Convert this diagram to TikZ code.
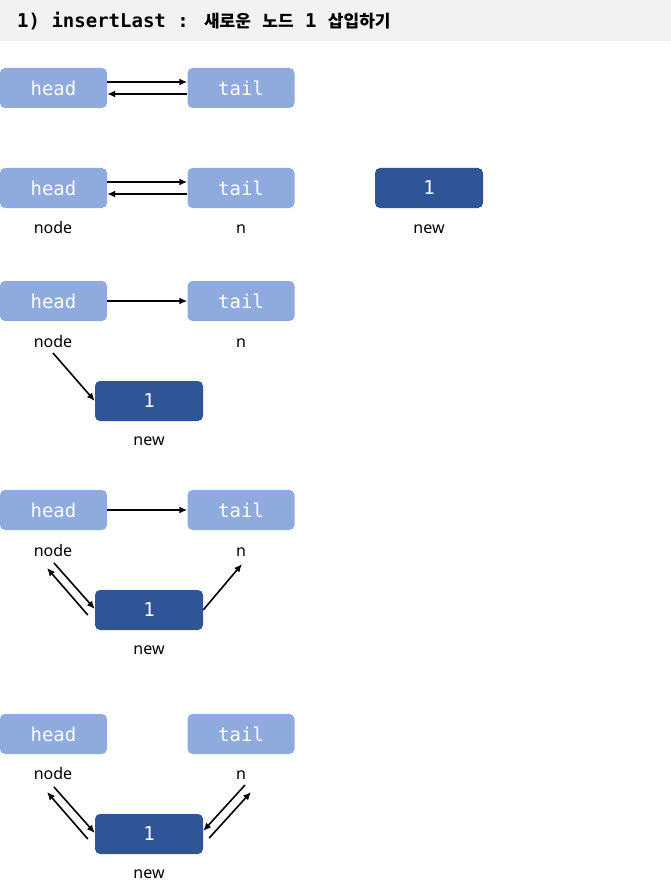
\documentclass[tikz,border=0pt]{standalone}
\usepackage{fontspec}
\setmainfont{Noto Sans}
\newfontfamily\monof{DejaVu Sans Mono}
\newfontfamily\krf{Noto Sans CJK KR}
\usetikzlibrary{arrows.meta}
\definecolor{lightbox}{HTML}{8FAADC}
\definecolor{darkbox}{HTML}{2F5597}
\definecolor{hdrbg}{HTML}{F2F2F2}
\tikzset{
  boxbase/.style={rounded corners=5pt, minimum width=107pt, minimum height=40pt, inner sep=0pt, text=white, font=\monof\fontsize{19}{19}\selectfont},
  lbox/.style={boxbase, fill=lightbox},
  dbox/.style={boxbase, fill=darkbox, minimum width=108pt},
  lbl/.style={inner sep=0pt, anchor=base, font=\fontsize{16}{16}\selectfont},
  arr/.style={line width=1.6pt, -{Latex[length=8pt,width=7pt]}}
}
\begin{document}
\begin{tikzpicture}[x=1pt,y=-1pt]
\useasboundingbox (0,0) rectangle (671,896);
\fill[hdrbg] (0,0) rectangle (671,41);
\node[anchor=base west, inner sep=0pt] (title) at (17,28) {\monof\bfseries\fontsize{19}{19}\selectfont 1) insertLast : \krf\bfseries\fontsize{17}{17}\selectfont 새로운\monof\fontsize{19}{19}\selectfont\ \krf\fontsize{17}{17}\selectfont 노드\monof\fontsize{19}{19}\selectfont\ 1\ \krf\fontsize{17}{17}\selectfont 삽입하기};

% row 1
\node[lbox] (h1) at (53.5,88) {head};
\node[lbox] (t1) at (241,88) {tail};
\draw[arr] ([shift={(0,-6)}]h1.east) -- ([shift={(0,-6)}]t1.west);
\draw[arr] ([shift={(0,6)}]t1.west) -- ([shift={(0,6)}]h1.east);

% row 2
\node[lbox] (h2) at (53.5,188) {head};
\node[lbox] (t2) at (241,188) {tail};
\node[dbox] (n2) at (429,188) {1};
\draw[arr] ([shift={(0,-6)}]h2.east) -- ([shift={(0,-6)}]t2.west);
\draw[arr] ([shift={(0,6)}]t2.west) -- ([shift={(0,6)}]h2.east);
\node[lbl] (l2a) at (53,233) {node};
\node[lbl] (l2b) at (241,233) {n};
\node[lbl] (l2c) at (429,233) {new};

% row 3
\node[lbox] (h3) at (53.5,301) {head};
\node[lbox] (t3) at (241,301) {tail};
\draw[arr] (h3.east) -- (t3.west);
\node[lbl] (l3a) at (53,347) {node};
\node[lbl] (l3b) at (241,347) {n};
\node[dbox] (n3) at (149,401) {1};
\node[lbl] (l3c) at (149,445) {new};
\draw[arr] ([shift={(0,6)}]l3a.base) -- (n3.west);

% row 4
\node[lbox] (h4) at (53.5,510) {head};
\node[lbox] (t4) at (241,510) {tail};
\draw[arr] (h4.east) -- (t4.west);
\node[lbl] (l4a) at (53,556) {node};
\node[lbl] (l4b) at (241,556) {n};
\node[dbox] (n4) at (149,610) {1};
\node[lbl] (l4c) at (149,654) {new};
\draw[arr] ([shift={(1,7)}]l4a.base) -- ([shift={(0,-1)}]n4.west);
\draw[arr] ([shift={(-7,5)}]n4.west) -- ([shift={(-6,12)}]l4a.base);
\draw[arr] (n4.east) -- ([shift={(1,8)}]l4b.base);

% row 5
\node[lbox] (h5) at (53.5,734) {head};
\node[lbox] (t5) at (241,734) {tail};
\node[lbl] (l5a) at (53,779) {node};
\node[lbl] (l5b) at (241,779) {n};
\node[dbox] (n5) at (149,834) {1};
\node[lbl] (l5c) at (149,878) {new};
\draw[arr] ([shift={(1,8)}]l5a.base) -- ([shift={(0,-1)}]n5.west);
\draw[arr] ([shift={(-7,5)}]n5.west) -- ([shift={(-6,13)}]l5a.base);
\draw[arr] ([shift={(4,6)}]l5b.base) -- ([shift={(0,-3)}]n5.east);
\draw[arr] ([shift={(6,4)}]n5.east) -- ([shift={(10,13)}]l5b.base);
\end{tikzpicture}
\end{document}
